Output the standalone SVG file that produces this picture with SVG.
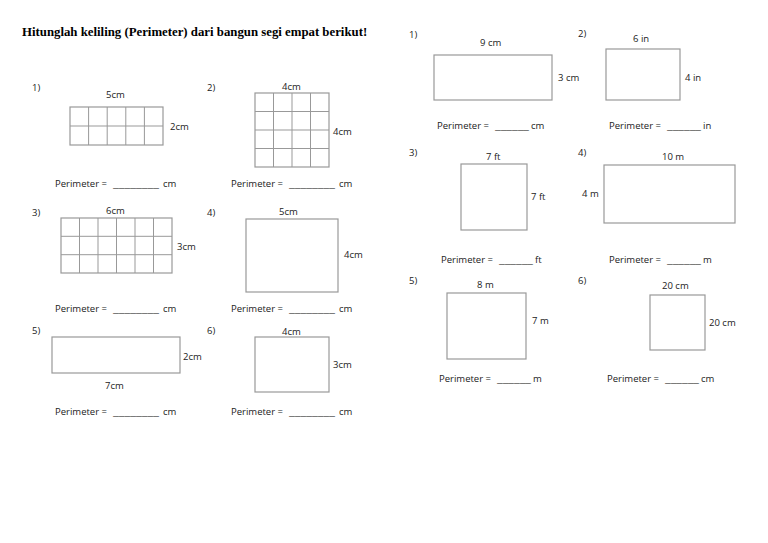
<svg xmlns="http://www.w3.org/2000/svg" width="768" height="543" viewBox="0 0 768 543">
<style>
text{font-family:"Open Sans","Liberation Sans",sans-serif;font-size:9.5px;fill:#222}
.t{font-family:"Liberation Serif",serif;font-size:12.8px;font-weight:bold;fill:#000}
.r{fill:none;stroke:#999;stroke-width:1.2}
.g{stroke:#999;stroke-width:1}
</style>
<rect width="768" height="543" fill="#fff"/>
<text class="t" x="22" y="36">Hitunglah keliling (Perimeter) dari bangun segi empat berikut!</text>
<g id="L1"><text x="32" y="91">1)</text><text x="106" y="98">5cm</text>
<rect class="r" x="70" y="107" width="93" height="38"/>
<path class="g" d="M88.6 107V145M107.2 107V145M125.8 107V145M144.4 107V145M70 126H163"/>
<text x="170" y="130">2cm</text></g>
<g id="L2"><text x="207" y="91">2)</text><text x="282" y="90">4cm</text>
<rect class="r" x="255" y="93" width="74" height="74"/>
<path class="g" d="M273.5 93V167M292 93V167M310.5 93V167M255 111.5H329M255 130H329M255 148.5H329"/>
<text x="333" y="135">4cm</text></g>
<text x="55" y="187">Perimeter = <tspan x="113" textLength="46" lengthAdjust="spacingAndGlyphs">________</tspan><tspan x="163">cm</tspan></text>
<text x="231" y="187">Perimeter = <tspan x="289" textLength="46" lengthAdjust="spacingAndGlyphs">________</tspan><tspan x="339">cm</tspan></text>
<g id="L3"><text x="32" y="216">3)</text><text x="106" y="214">6cm</text>
<rect class="r" x="61" y="218" width="111" height="55"/>
<path class="g" d="M79.5 218V273M98 218V273M116.5 218V273M135 218V273M153.5 218V273M61 236.3H172M61 254.7H172"/>
<text x="177" y="250">3cm</text></g>
<g id="L4"><text x="207" y="216">4)</text><text x="279" y="215">5cm</text>
<rect class="r" x="246" y="219" width="92" height="73"/>
<text x="344" y="258">4cm</text></g>
<text x="55" y="312">Perimeter = <tspan x="113" textLength="46" lengthAdjust="spacingAndGlyphs">________</tspan><tspan x="163">cm</tspan></text>
<text x="231" y="312">Perimeter = <tspan x="289" textLength="46" lengthAdjust="spacingAndGlyphs">________</tspan><tspan x="339">cm</tspan></text>
<g id="L5"><text x="32" y="334">5)</text>
<rect class="r" x="52" y="337" width="128" height="36"/>
<text x="183" y="360">2cm</text><text x="105" y="389">7cm</text></g>
<g id="L6"><text x="207" y="334">6)</text><text x="282" y="335">4cm</text>
<rect class="r" x="255" y="337" width="74" height="55"/>
<text x="333" y="368">3cm</text></g>
<text x="55" y="415">Perimeter = <tspan x="113" textLength="46" lengthAdjust="spacingAndGlyphs">________</tspan><tspan x="163">cm</tspan></text>
<text x="231" y="415">Perimeter = <tspan x="289" textLength="46" lengthAdjust="spacingAndGlyphs">________</tspan><tspan x="339">cm</tspan></text>

<g id="R1"><text x="409" y="38">1)</text><text x="480" y="46">9 cm</text>
<rect class="r" x="434" y="55" width="118" height="45"/><text x="558" y="81">3 cm</text></g>
<g id="R2"><text x="578" y="37">2)</text><text x="633" y="42">6 in</text>
<rect class="r" x="606" y="49" width="74" height="51"/><text x="685" y="81">4 in</text></g>
<text x="437" y="129">Perimeter = <tspan x="495" textLength="34" lengthAdjust="spacingAndGlyphs">______</tspan><tspan x="531">cm</tspan></text>
<text x="609" y="129">Perimeter = <tspan x="667" textLength="34" lengthAdjust="spacingAndGlyphs">______</tspan><tspan x="703">in</tspan></text>
<g id="R3"><text x="409" y="156">3)</text><text x="486" y="160">7 ft</text>
<rect class="r" x="461" y="164" width="66" height="66"/><text x="531" y="200">7 ft</text></g>
<g id="R4"><text x="578" y="156">4)</text><text x="662" y="160">10 m</text>
<rect class="r" x="604" y="165" width="131" height="58"/><text x="582" y="197">4 m</text></g>
<text x="441" y="263">Perimeter = <tspan x="499" textLength="34" lengthAdjust="spacingAndGlyphs">______</tspan><tspan x="535">ft</tspan></text>
<text x="609" y="263">Perimeter = <tspan x="667" textLength="34" lengthAdjust="spacingAndGlyphs">______</tspan><tspan x="703">m</tspan></text>
<g id="R5"><text x="409" y="284">5)</text><text x="477" y="288">8 m</text>
<rect class="r" x="447" y="293" width="79" height="66"/><text x="532" y="324">7 m</text></g>
<g id="R6"><text x="578" y="284">6)</text><text x="662" y="289">20 cm</text>
<rect class="r" x="650" y="295" width="55" height="55"/><text x="709" y="326">20 cm</text></g>
<text x="439" y="382">Perimeter = <tspan x="497" textLength="34" lengthAdjust="spacingAndGlyphs">______</tspan><tspan x="533">m</tspan></text>
<text x="607" y="382">Perimeter = <tspan x="665" textLength="34" lengthAdjust="spacingAndGlyphs">______</tspan><tspan x="701">cm</tspan></text>
</svg>
